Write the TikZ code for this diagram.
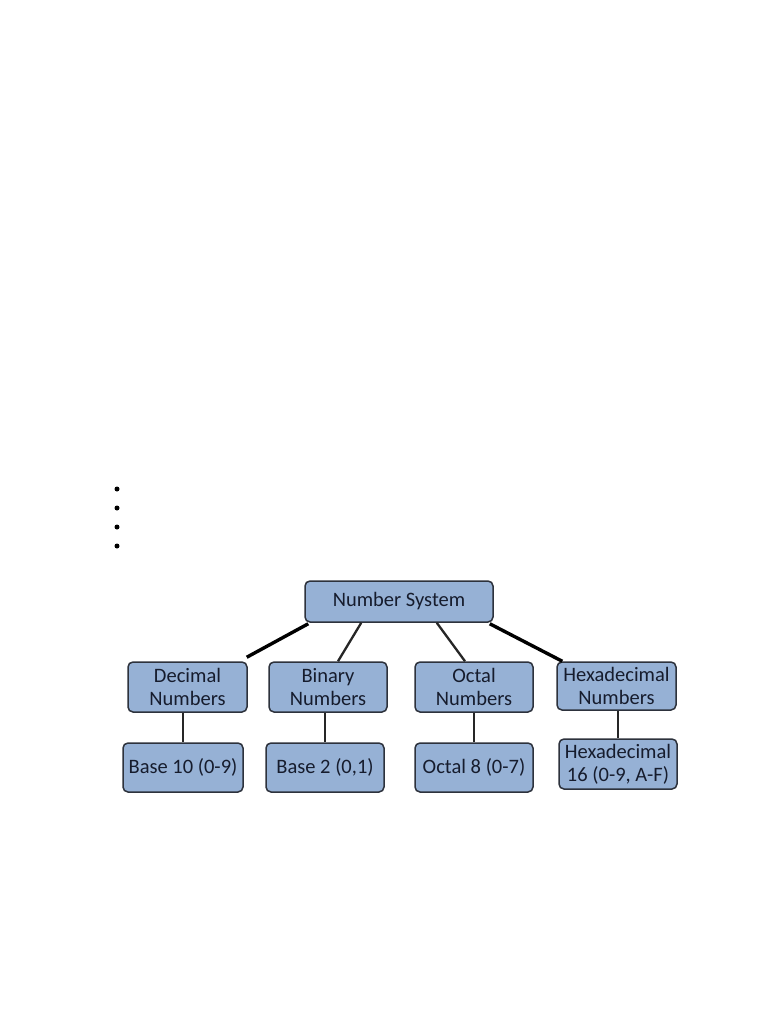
\documentclass[tikz,border=0pt]{standalone}
\usepackage{fontspec}
\setmainfont{Carlito}
\definecolor{boxfill}{RGB}{150,177,213}
\definecolor{boxline}{RGB}{45,50,60}
\definecolor{boxtext}{RGB}{22,28,45}
\begin{document}
\begin{tikzpicture}[x=1pt,y=-1pt,
  box/.style={draw=boxline,line width=1.5pt,fill=boxfill,rounded corners=5pt,
    align=center,text=boxtext,inner sep=0pt,
    font=\fontsize{20.5}{23}\selectfont},
  thick link/.style={draw=black,line width=3.4pt},
  thin link/.style={draw=black!85,line width=2.3pt},
  bullet/.style={circle,fill=black,inner sep=0pt,minimum size=5pt}]
\useasboundingbox (0,0) rectangle (768,1024);
\fill[white] (0,0) rectangle (768,1024);
% bullets
\node[bullet] (p1) at (117,489) {};
\node[bullet] (p2) at (117,508) {};
\node[bullet] (p3) at (117,527) {};
\node[bullet] (p4) at (117,546) {};
% connectors
\coordinate (dummy) at (0,0);
% boxes
\node[box,minimum width=188pt,minimum height=41pt] (ns) at (399,601.5) {Number System};
\node[box,minimum width=119pt,minimum height=50pt] (dec) at (187.5,687) {Decimal\\Numbers};
\node[box,minimum width=118pt,minimum height=50pt] (bin) at (328,687) {Binary\\Numbers};
\node[box,minimum width=118pt,minimum height=50pt] (oct) at (474,687) {Octal\\Numbers};
\node[box,minimum width=119pt,minimum height=48pt] (hex) at (616.5,686) {Hexadecimal\\Numbers};
\node[box,minimum width=120pt,minimum height=49pt] (b10) at (183,767.5) {Base 10 (0-9)};
\node[box,minimum width=118pt,minimum height=49pt] (b2) at (325,767.5) {Base 2 (0,1)};
\node[box,minimum width=118pt,minimum height=49pt] (o8) at (474,767.5) {Octal 8 (0-7)};
\node[box,minimum width=118pt,minimum height=50pt] (h16) at (618,764) {Hexadecimal\\16 (0-9, A-F)};
\draw[thick link] ([xshift=4pt,yshift=-1pt]ns.south west) -- ([xshift=-1pt,yshift=4pt]dec.north east);
\draw[thin link] ([xshift=57pt]ns.south west) -- ([xshift=10pt]bin.north);
\draw[thin link] ([xshift=-57pt]ns.south east) -- ([xshift=-9pt]oct.north);
\draw[thick link] ([xshift=-4pt,yshift=-1pt]ns.south east) -- ([xshift=6pt]hex.north west);
\draw[thin link] (dec.south -| b10.north) -- (b10.north);
\draw[thin link] (bin.south -| b2.north) -- (b2.north);
\draw[thin link] (oct.south) -- (o8.north);
\draw[thin link] (hex.south -| h16.north) -- (h16.north);
\end{tikzpicture}
\end{document}
